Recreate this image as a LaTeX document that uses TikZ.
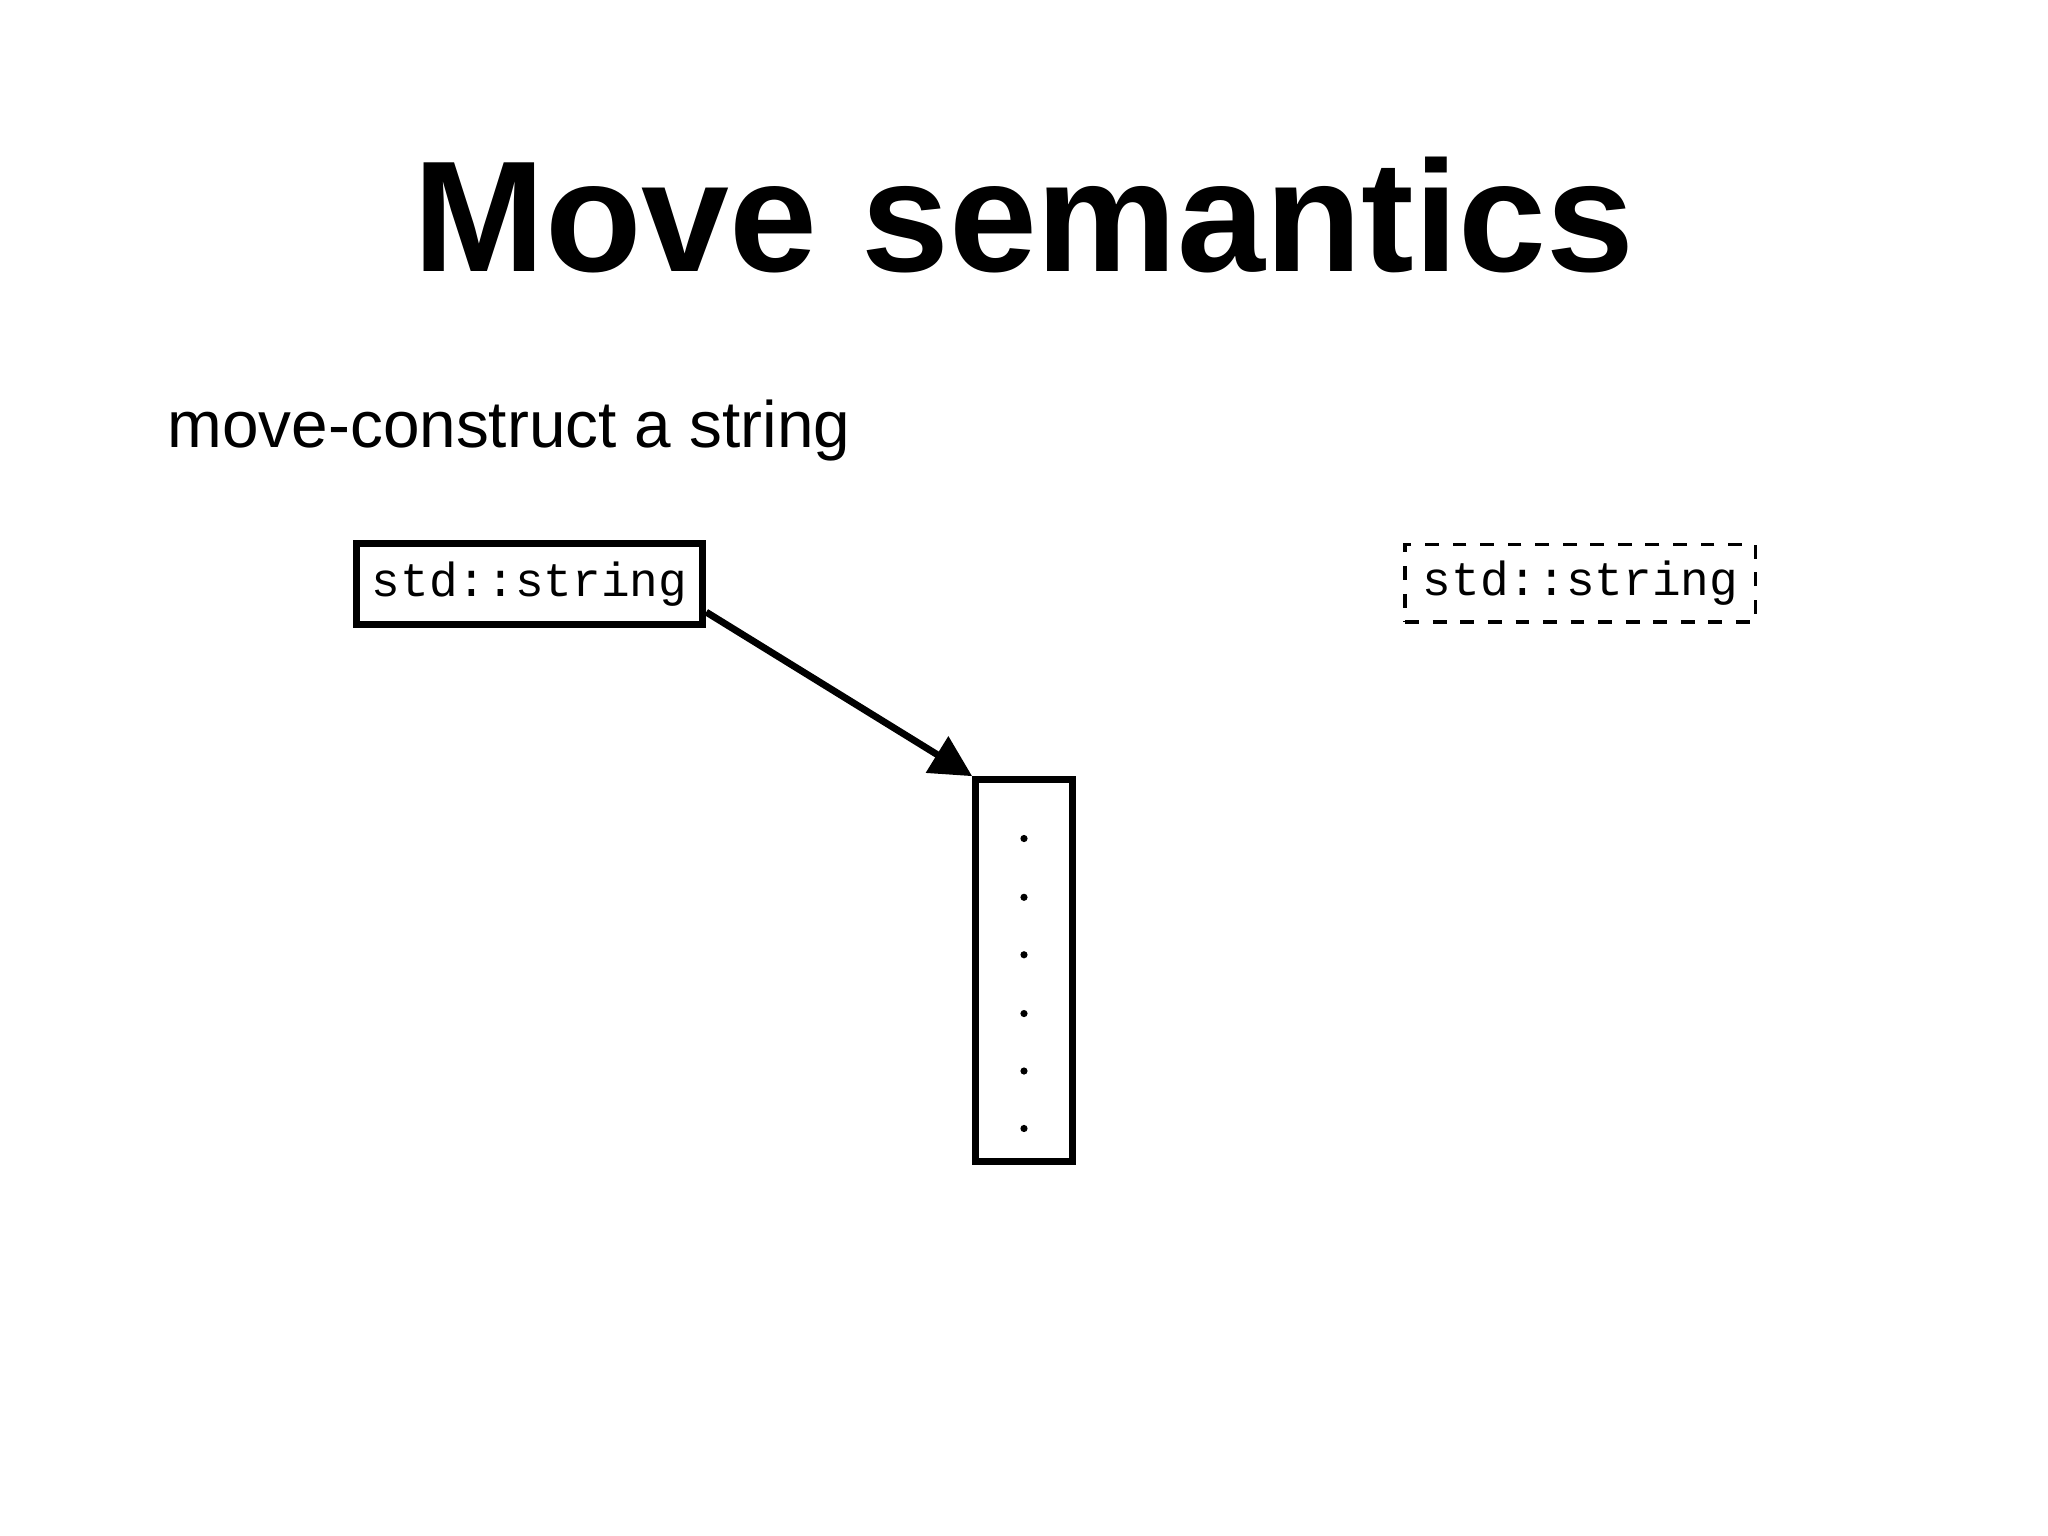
\documentclass[tikz,border=0pt]{standalone}
\usepackage{fontspec}
\setmainfont{Liberation Sans}
\setmonofont{Liberation Mono}
\usetikzlibrary{arrows.meta}
\begin{document}
\begin{tikzpicture}[x=0.01cm,y=-0.01cm,
  solidbox/.style={draw,line width=1.5pt,minimum width=2.65cm,minimum height=0.62cm,inner sep=0pt,font=\ttfamily\fontsize{10.4pt}{12pt}\selectfont},
  dashbox/.style={draw,dashed,line width=0.8pt,minimum width=2.68cm,minimum height=0.59cm,inner sep=0pt,font=\ttfamily\fontsize{10.4pt}{12pt}\selectfont},
  dotmark/.style={circle,fill,inner sep=0pt,minimum size=0.055cm}]
\useasboundingbox (0,0) rectangle (1568,1176);
\node[font=\bfseries\fontsize{34.4pt}{40pt}\selectfont] (title) at (784,165) {Move semantics};
\node[anchor=west,font=\fontsize{14.3pt}{16pt}\selectfont] (sub) at (116,330) {move-construct a string};
\node[solidbox] (s1) at (405.5,447) {std::string};
\node[dashbox] (s2) at (1210,446.5) {std::string};
\node[draw,line width=1.5pt,minimum width=0.74cm,minimum height=2.92cm,inner sep=0pt] (buf) at (784,743) {};
\foreach \y [count=\i] in {642,687,731,776,820,864} \node[dotmark] (d\i) at (784,\y) {};
\draw[line width=1.5pt,-{Triangle[length=9pt,width=9pt]}] (s1.south east) ++(0,-12) coordinate (a0) -- (buf.north west);
\end{tikzpicture}
\end{document}
